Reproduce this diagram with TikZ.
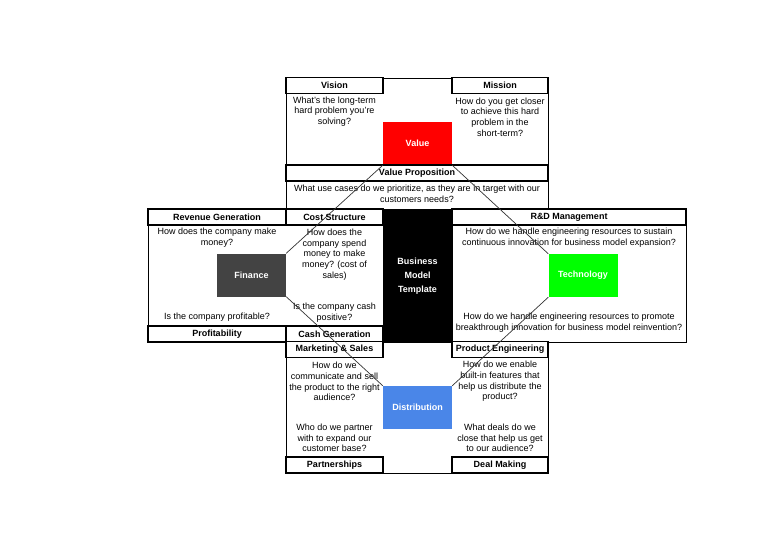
\documentclass[tikz,border=0pt]{standalone}
\usepackage{fontspec}
\setmainfont{Liberation Sans}
\usepackage{tikz}
\usetikzlibrary{positioning}
\definecolor{fingray}{HTML}{434343}
\definecolor{techgreen}{HTML}{00FF00}
\definecolor{distblue}{HTML}{4A86E8}

\begin{document}
\begin{tikzpicture}[x=1pt, y=-1pt,
    hdr/.style={draw, line width=1.5pt, fill=white, inner sep=0pt, minimum height=16pt, minimum width=#1, font=\fontsize{9}{10.7}\selectfont\bfseries},
    txt/.style={align=center, inner sep=0pt, font=\fontsize{9}{10.7}\selectfont},
    tile/.style={inner sep=0pt, minimum width=69pt, minimum height=43pt, text=white, align=center, font=\fontsize{9}{14}\selectfont\bfseries},
    frame/.style={draw, line width=0.8pt},
    conn/.style={draw=black!80, line width=0.7pt}]
        \useasboundingbox (0,0) rectangle (768,543);
        \draw[frame] (286,78) rectangle (548,209);
        \draw[frame] (148,209) rectangle (383,342);
        \draw[frame] (452,209) rectangle (686,342);
        \draw[frame] (286,342) rectangle (548,473);

        \node[tile, fill=red] (value) at (417.5,143.5) {Value};
        \node[tile, fill=fingray] (finance) at (251.5,275) {Finance};
        \node[tile, fill=techgreen] (tech) at (583,275.5) {Technology};
        \node[tile, fill=distblue] (distrib) at (417.5,407.5) {Distribution};
        \node[tile, fill=black, minimum height=133pt, text depth=-2pt] (bmt) at (417.5,275.5) {Business\\Model\\Template};

        \node[hdr=97pt] (vision) at (334.5,85.5) {Vision};
        \node[hdr=96pt] (mission) at (500,85.5) {Mission};
        \node[hdr=262pt] (valueprop) at (417,173) {Value Proposition};
        \node[hdr=138pt] (revgen) at (217,217) {Revenue Generation};
        \node[hdr=97pt] (coststruct) at (334.5,217) {Cost Structure};
        \node[hdr=234pt] (rnd) at (569,217) {R\&D Management};
        \node[hdr=138pt] (profit) at (217,334) {Profitability};
        \node[hdr=97pt] (cashgen) at (334.5,334) {Cash Generation};
        \node[hdr=97pt] (mktsales) at (334.5,349.5) {Marketing \& Sales};
        \node[hdr=96pt] (prodeng) at (500,349.5) {Product Engineering};
        \node[hdr=97pt] (partners) at (334.5,465) {Partnerships};
        \node[hdr=96pt] (dealmaking) at (500,465) {Deal Making};

        \node[txt] (visionq) at (334.5,111.5) {What's the long-term\\hard problem you're\\solving?};
        \node[txt] (missionq) at (500,117) {How do you get closer\\to achieve this hard\\problem in the\\short-term?};
        \node[txt] (valuepropq) at (417,194) {What use cases do we prioritize, as they are in target with our\\customers needs?};
        \node[txt] (revgenq) at (217,238) {How does the company make\\money?};
        \node[txt] (coststructq) at (334.5,254.5) {How does the\\company spend\\money to make\\money? (cost of\\sales)};
        \node[txt] (profitq) at (217,317.5) {Is the company profitable?};
        \node[txt] (cashgenq) at (334.5,312.5) {Is the company cash\\positive?};
        \node[txt] (rndq) at (569,238) {How do we handle engineering resources to sustain\\continuous innovation for business model expansion?};
        \node[txt] (rndq2) at (569,323) {How do we handle engineering resources to promote\\breakthrough innovation for business model reinvention?};
        \node[txt] (mktsalesq) at (334.5,381.5) {How do we\\communicate and sell\\the product to the right\\audience?};
        \node[txt] (partnersq) at (334.5,438) {Who do we partner\\with to expand our\\customer base?};
        \node[txt] (prodengq) at (500,381.5) {How do we enable\\built-in features that\\help us distribute the\\product?};
        \node[txt] (dealmakingq) at (500,438) {What deals do we\\close that help us get\\to our audience?};

        \draw[conn] (value.south west) -- (finance.north east);
        \draw[conn] (value.south east) -- (tech.north west);
        \draw[conn] (finance.south east) -- (distrib.north west);
        \draw[conn] (tech.south west) -- (distrib.north east);
    \end{tikzpicture}
\end{document}
